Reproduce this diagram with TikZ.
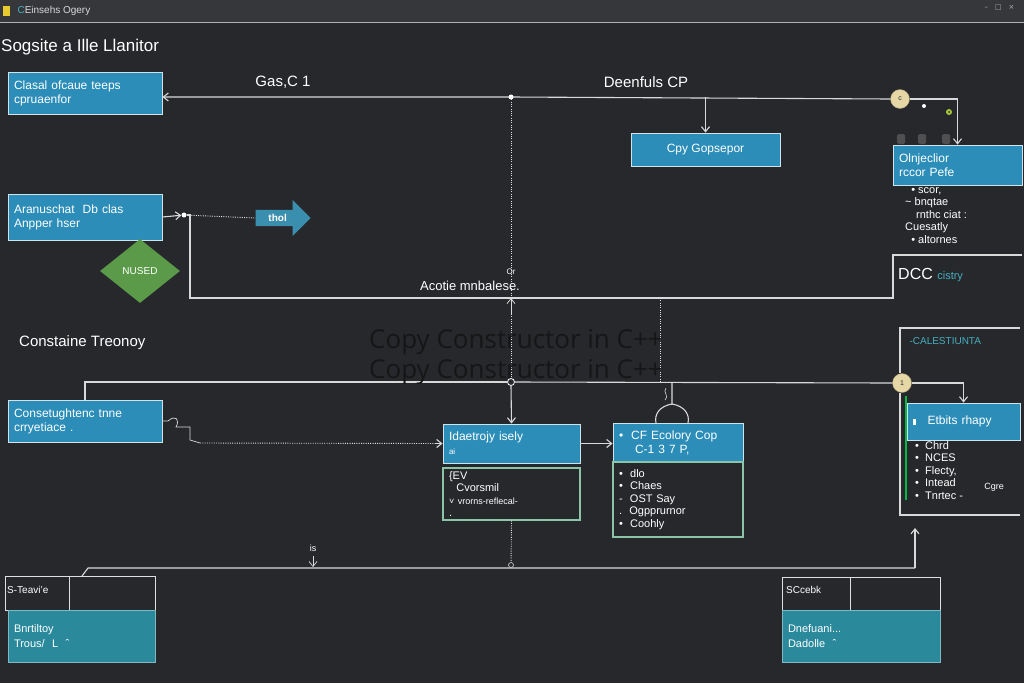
\documentclass[tikz,border=0pt]{standalone}
\usepackage{fontspec}
\setmainfont{Liberation Sans}
\newfontfamily\opensans{Open Sans}
\newfontfamily\dejavu{DejaVu Sans}
\usetikzlibrary{arrows.meta,shapes.geometric,shapes.arrows}
\definecolor{bg}{HTML}{27282C}
\definecolor{barbg}{HTML}{35373B}
\definecolor{wire}{HTML}{D9D9D9}
\definecolor{boxblue}{HTML}{2B8DB8}
\definecolor{boxedge}{HTML}{CFE3EA}
\definecolor{boxteal}{HTML}{2A8A9C}
\definecolor{dgreen}{HTML}{5A9A48}
\definecolor{yellowc}{HTML}{E6D8A6}
\definecolor{greenedge}{HTML}{8CC4A8}
\definecolor{tealtxt}{HTML}{44B0C0}
\definecolor{arrowblue}{HTML}{3B8FAE}
\definecolor{limedot}{HTML}{A6C93A}
\definecolor{captxt}{HTML}{161616}
\tikzset{
  bluebox/.style={draw=boxedge, fill=boxblue, line width=0.9pt, text=white,
    font=\fontsize{12}{14}\selectfont, align=left, inner xsep=6pt, inner ysep=2pt},
  tealbox/.style={bluebox, fill=boxteal, draw=boxteal!60!white, font=\fontsize{11}{15}\selectfont},
  darkbox/.style={draw=greenedge, fill=bg, line width=1.3pt, text=white,
    font=\fontsize{11}{12.5}\selectfont, align=left, inner xsep=6pt, inner ysep=3pt},
  outlinebox/.style={draw=wire!85, line width=0.8pt},
  wire/.style={draw=wire, line width=1.1pt},
  dotwire/.style={draw=wire!80, line width=0.9pt, dash pattern=on 1pt off 1.3pt},
  tip/.style={-{Straight Barb[length=5pt,width=8pt]}},
  lbl/.style={text=white, inner sep=1pt},
  listtxt/.style={text=white, font=\fontsize{11}{12.5}\selectfont, align=left, anchor=north west, inner sep=0pt},
  junction/.style={circle, fill=yellowc, draw=yellowc!70!black, minimum size=19pt, inner sep=0pt, text=bg, font=\fontsize{7}{7}\selectfont},
  smalldot/.style={circle, fill=white, minimum size=5pt, inner sep=0pt},
}
\begin{document}
\begin{tikzpicture}[x=1pt,y=-1pt]
\useasboundingbox (0,0) rectangle (1024,683);
\fill[bg] (0,0) rectangle (1024,683);
% title bar
\fill[barbg] (0,0) rectangle (1024,22);
\draw[gray!60] (0,22) -- (1024,22);
\fill[yellow!60!brown] (3,6) rectangle (10,16);
\node[anchor=west, text=gray!30, font=\fontsize{10}{10}\selectfont] (apptitle) at (14,11) {\textcolor{tealtxt}{C}Einsehs Ogery};
\node[anchor=east, text=gray!60, font=\dejavu\fontsize{7}{7}\selectfont] (winctl) at (1018,8) {–\quad □\quad ×};
% heading
\node[lbl, anchor=west, font=\fontsize{17}{17}\selectfont] (title) at (0,47) {Sogsite a Ille Llanitor};

% top row
\node[bluebox, minimum width=154pt, minimum height=42pt, text width=142pt] (b1) at (85,93) {Clasal ofcaue teeps\\ cpruaenfor};
\coordinate (j1) at (511,97);
\node[junction] (c1) at (900,99) {c};
\draw[wire, tip] (c1.west) -- (j1) -- (b1.east |- j1);
\fill[white] (j1) circle (2.5pt);
\node[lbl, font=\fontsize{15}{15}\selectfont] (lab1) at (283,82) {Gas,C 1};
\node[lbl, font=\fontsize{15}{15}\selectfont] (lab2) at (646,82) {Deenfuls CP};

\node[bluebox, minimum width=149pt, minimum height=33pt, align=center] (b2) at (705.5,149.5) {Cpy Gopsepor};
\draw[wire, tip] (b2.north |- j1) -- (b2.north);

\node[bluebox, minimum width=129pt, minimum height=40pt, text width=117pt] (b7) at (957.5,165) {Olnjeclior\\ rccor Pefe};
\draw[wire, tip] (c1.east) -- (c1.east -| b7.north) -- (b7.north);
\fill[white] (924,106) circle (2pt);
\fill[limedot] (949,112) circle (3pt);
\fill[bg] (949,112) circle (1pt);
\foreach \xx in {901,922,946} \fill[gray!45!bg, rounded corners=1.5pt] (\xx-4,134) rectangle (\xx+4,144);
\node[listtxt] (l7) at (905,187) {\ \ • scor,\\ \textasciitilde\ bnqtae\\ \quad rnthc ciat :\\ Cuesatly\\ \ \ • altornes};

% frame "DCC cistry"
\node[bluebox, minimum width=154pt, minimum height=46pt, text width=142pt] (b3) at (85,217) {Aranuschat \ Db clas\\ Anpper hser};
\node[smalldot] (d1) at (184,215) {};
\draw[wire, tip] (b3.east) -- (d1);
\draw[wire] (d1) -- (190,215) -- (190,298) -- (893,298) -- (893,255) -- (1022,255);
\node[lbl, anchor=west, font=\fontsize{16}{16}\selectfont] (dcc) at (897,275) {DCC \textcolor{tealtxt}{\fontsize{11}{11}\selectfont cistry}};
\node[single arrow, fill=arrowblue, minimum height=55pt, minimum width=36pt, single arrow head extend=6pt, inner sep=1pt, text=white, font=\fontsize{10}{10}\selectfont\bfseries] (barrow) at (279,218) {thol\ \ };
\draw[dotwire] (d1) -- (barrow.west);
\node[diamond, fill=dgreen, minimum width=80pt, minimum height=64pt, inner sep=0pt, text=white, font=\fontsize{10}{10}\selectfont] (dia) at (140,271) {NUSED};
\node[lbl, font=\fontsize{13}{13}\selectfont] (acot) at (470,286) {Acotie mnbalese.};
\node[lbl, font=\fontsize{8}{8}\selectfont] (or) at (511,272) {Or};

% vertical dotted guides
\coordinate (j2) at (511,298);
\coordinate (j2b) at (511,314);
\node[circle, draw=white, fill=bg, line width=0.8pt, minimum size=7pt, inner sep=0pt] (j3) at (511,382) {};
\draw[dotwire] (j1) -- (j2);
\draw[wire, tip, line width=0.8pt] (j2b) -- (j2);
\draw[dotwire] (j2b) -- (j3);
\coordinate (v1) at (660,298);
\coordinate (v2) at (660,382);
\draw[dotwire] (v1) -- (v2);

\node[lbl, anchor=west, font=\fontsize{15}{15}\selectfont] (cons) at (18,343) {Constaine Treonoy};

% middle row
\node[bluebox, minimum width=154pt, minimum height=42pt, text width=142pt] (b5) at (85,421) {Consetughtenc tnne\\ crryetiace .};
\coordinate (k5) at (85,382);
\node[junction] (c2) at (902,383) {1};
\draw[wire] (b5.north) -- (k5) -- (j3.west);
\draw[wire] (j3.east) -- (c2.west);
\node[bluebox, minimum width=137pt, minimum height=39pt, text width=125pt] (b4) at (511.5,443.5) {Idaetrojy isely\\ {\fontsize{8}{9}\selectfont ai}};
\node[darkbox, minimum width=137pt, minimum height=52pt, text width=125pt] (b4b) at (511.5,494) {\{EV\\ \ \ Cvorsmil\\ {\fontsize{9}{10}\selectfont ˅ vrorns-reflecal-}\\ .};
\draw[wire, tip] (j3.south) -- (b4.north);
\coordinate (s1) at (200,443);
\draw[wire, line width=0.7pt] (b5.east) -- (168,421) .. controls (176,414) and (180,420) .. (176,427) -- (190,427) -- (190,440) -- (s1);
\coordinate (s2) at (435,443.5);
\draw[dotwire] (s1) -- (s2);
\draw[wire, tip] (s2) -- (b4.west);

\node[bluebox, minimum width=130pt, minimum height=39pt, text width=118pt] (b6) at (678,442.5) {•\ \ CF Ecolory Cop\\ \ \ \ \ C-1 3 7 P,};
\node[darkbox, minimum width=130pt, minimum height=75pt, text width=118pt] (b6b) at (678,499.5) {•\ \ dlo\\ •\ \ Chaes\\ -\ \ OST Say\\ .\ \ Ogpprurnor\\ •\ \ Coohly};
\draw[wire, tip] (b4.east) -- (b4.east -| b6.west);
\coordinate (h1) at (672,382);
\coordinate (h2) at (672,404);
\draw[wire] (h1) -- (h2) .. controls (684,406) and (690,414) .. (688,423);
\draw[wire] (h2) .. controls (660,406) and (654,414) .. (656,423);
\draw[wire, line width=0.6pt] (666,388) .. controls (662,392) and (670,396) .. (665,400);

% right frame
\coordinate (f1) at (900,328);
\coordinate (f2) at (900,373);
\coordinate (f3) at (900,393);
\coordinate (f4) at (900,515);
\draw[wire] (1020,328) -- (f1) -- (f2);
\draw[wire] (f3) -- (f4) -- (1020,515);
\node[anchor=west, text=tealtxt, font=\fontsize{10}{10}\selectfont] (cal) at (906,341) {-CALESTIUNTA};
\draw[green!45!teal, line width=1.6pt] (906,396) -- (906,500);
\node[bluebox, minimum width=113pt, minimum height=37pt, text width=101pt] (b8) at (963.5,421.5) {\rule{2.5pt}{6pt}\ \ \ Etbits rhapy};
\draw[wire, tip] (c2.east) -- (c2.east -| b8.north) -- (b8.north);
\node[listtxt] (l8) at (915,441) {•\ \ Chrd\\ •\ \ NCES\\ •\ \ Flecty,\\ •\ \ Intead\\ •\ \ Tnrtec -};
\node[lbl, font=\fontsize{9}{9}\selectfont] (cgre) at (994,487) {Cgre};

% bottom
\coordinate (m1) at (88,568);
\coordinate (m2) at (915,568);
\coordinate (m3) at (915,528);
\draw[wire] (m2) -- (m1) -- (82,576);
\draw[wire, tip] (m2) -- (m3);
\node[lbl, font=\fontsize{9}{9}\selectfont] (is) at (313,548) {is};
\coordinate (i1) at (313,556);
\coordinate (i2) at (313,567);
\draw[wire, tip, line width=0.7pt] (i1) -- (i2);
\node[circle, draw=wire, fill=bg, minimum size=5pt, inner sep=0pt, line width=0.6pt] (o1) at (511,565) {};
\draw[dotwire] (b4b.south) -- (o1);

\node[outlinebox, minimum width=150pt, minimum height=34pt] (bltop) at (80,593) {};
\draw[wire!85, line width=0.7pt] (69,576) -- (69,610);
\node[lbl, anchor=west, font=\fontsize{10}{10}\selectfont] (st) at (6,590) {S-Teavi'e};
\node[tealbox, minimum width=147pt, minimum height=52pt, text width=135pt] (blbox) at (81.5,636) {Bnrtiltoy\\ Trous/ \ L \ ˆ};

\node[outlinebox, minimum width=158pt, minimum height=33pt] (brtop) at (861,593.5) {};
\draw[wire!85, line width=0.7pt] (850,577) -- (850,610);
\node[lbl, anchor=west, font=\fontsize{10}{10}\selectfont] (sc) at (785,590) {SCcebk};
\node[tealbox, minimum width=158pt, minimum height=52pt, text width=146pt] (brbox) at (861,636) {Dnefuani...\\ Dadolle \ ˆ};

% central caption
\node[font=\opensans\fontsize{26}{26}\selectfont, text=captxt] (ct1) at (516,342) {Copy Constructor in C++};
\node[font=\opensans\fontsize{26}{26}\selectfont, text=captxt] (ct2) at (516,372) {Copy Constructor in C++};
\end{tikzpicture}
\end{document}
